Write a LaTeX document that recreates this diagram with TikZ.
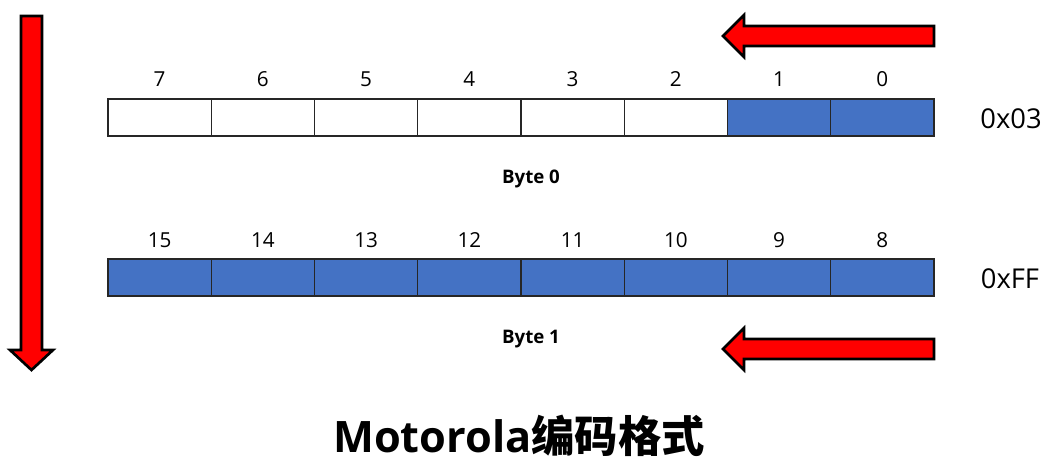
\documentclass[tikz,border=0pt]{standalone}
\usepackage{fontspec}
\setmainfont{Open Sans}
\newfontfamily\cjk{Noto Sans CJK SC}
\definecolor{cellblue}{HTML}{4472C4}
\definecolor{arrowred}{HTML}{FF0000}

\tikzset{
  cell/.style={draw=black!85, line width=0.9pt, minimum width=77.44pt,
    minimum height=27.75pt, inner sep=0pt},
  bitlbl/.style={font=\fontsize{15.5}{18}\selectfont, inner sep=0pt},
  bytelbl/.style={font=\fontsize{14}{17}\selectfont\bfseries, inner sep=0pt},
  hexlbl/.style={font=\fontsize{20.5}{24}\selectfont, inner sep=0pt},
  bigarrow/.style={fill=arrowred, draw=black, line width=2pt, line join=miter},
}

\begin{document}
\begin{tikzpicture}[x=0.75pt,y=-0.75pt]
         \useasboundingbox (0,0) rectangle (1063,472) ;
         % the two bytes, bit 7 / bit 15 on the left
         \foreach \k [evaluate=\k as \bx using 159.6+103.25*\k,
                      evaluate=\k as \lo using int(7-\k),
                      evaluate=\k as \hi using int(15-\k)] in {0,...,7} {
            \ifnum\k>5 \def\fc{cellblue}\else \def\fc{white}\fi
            \node[cell,fill=\fc] (c\lo) at (\bx,117.5) {} ;
            \node[bitlbl] (l\lo) at (\bx,79) {\lo} ;
            \node[cell,fill=cellblue] (c\hi) at (\bx,277.5) {} ;
            \node[bitlbl] (l\hi) at (\bx,240) {\hi} ;
         }
         \node[bytelbl] (byte0) at (531,179) {Byte 0} ;
         \node[bytelbl] (byte1) at (531,339) {Byte 1} ;
         \node[hexlbl] (hex0) at (1011,119) {0x03} ;
         \node[hexlbl] (hex1) at (1010,279) {0xFF} ;
         % red arrows
         \draw[bigarrow] (934,26)--(744,26)--(744,15)--(723,36)--(744,57)--(744,46)--(934,46)--cycle ;
         \draw[bigarrow] (934,339)--(744,339)--(744,328)--(723,349)--(744,370)--(744,359)--(934,359)--cycle ;
         \draw[bigarrow] (21,16)--(21,350)--(10,350)--(31.5,370)--(53,350)--(42,350)--(42,16)--cycle ;
         \node[font=\fontsize{32.5}{37}\selectfont\bfseries] (title) at (519,436) {Motorola{\cjk 编码格式}} ;
\end{tikzpicture}
\end{document}
